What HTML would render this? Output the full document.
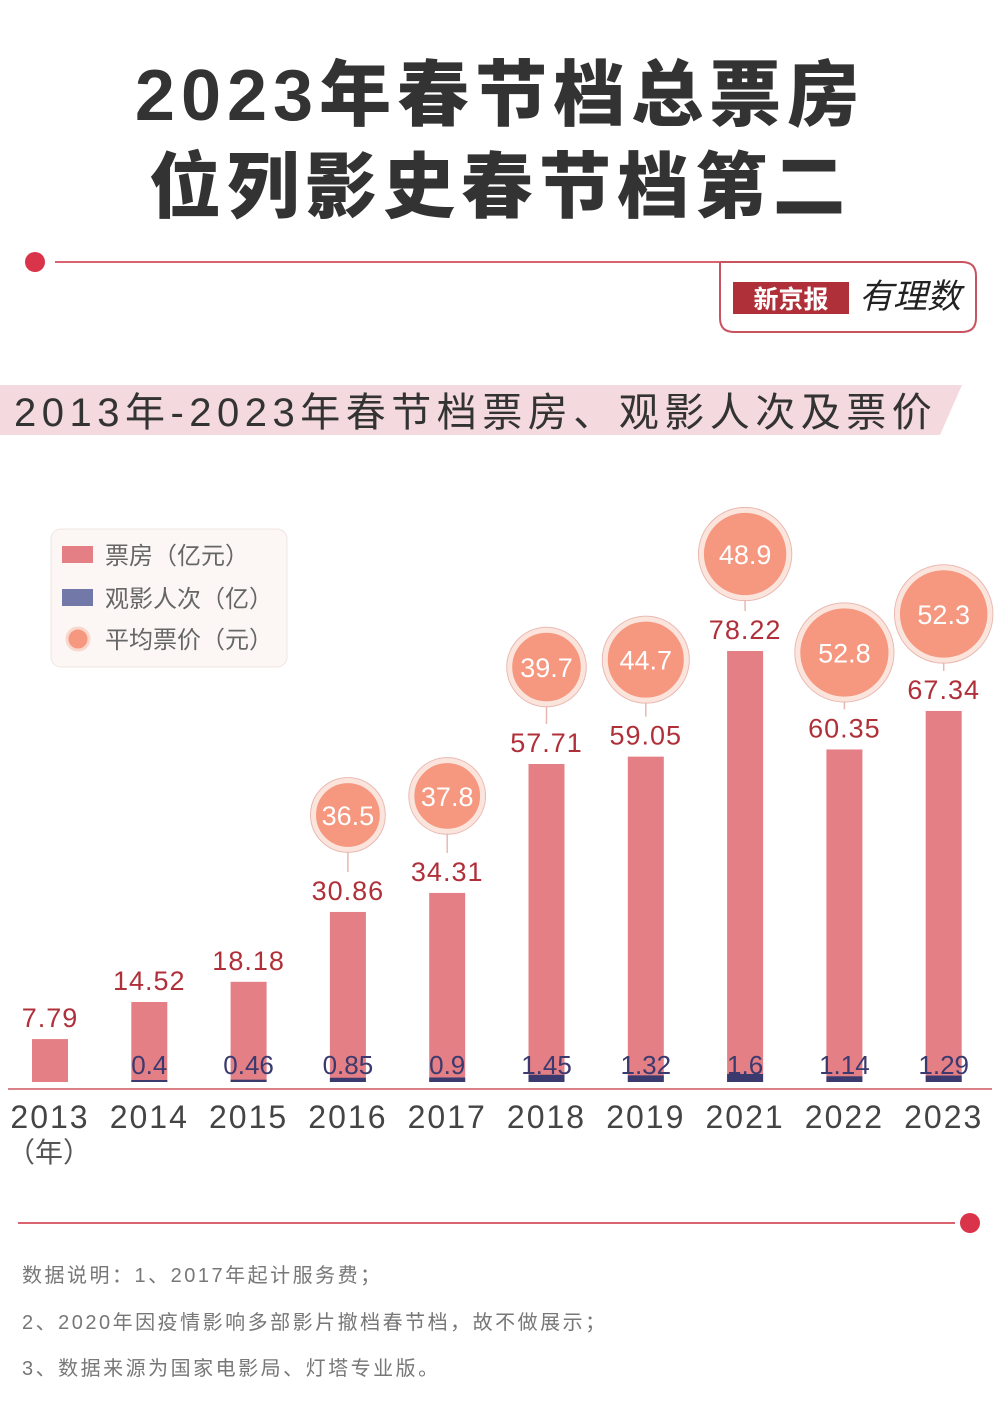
<!DOCTYPE html>
<html><head><meta charset="utf-8"><style>
body{margin:0;background:#fff;width:1000px;height:1423px;overflow:hidden;font-family:"Liberation Sans","Noto Sans CJK SC",sans-serif}
svg text{font-family:"Liberation Sans","Noto Sans CJK SC",sans-serif}
</style></head><body>
<svg id="c" width="1000" height="1423" viewBox="0 0 1000 1423">
<text x="500" y="120" text-anchor="middle" font-size="72" font-weight="900" fill="#333" letter-spacing="6">2023年春节档总票房</text>
<text x="500" y="212" text-anchor="middle" font-size="72" font-weight="900" fill="#333" letter-spacing="6">位列影史春节档第二</text>
<circle cx="35" cy="262" r="10" fill="#d9344a"/>
<line x1="55" y1="262" x2="725" y2="262" stroke="#d9646f" stroke-width="2"/>
<path d="M720 262 V318 Q720 332 734 332 H962 Q976 332 976 318 V276 Q976 262 962 262 H720" fill="none" stroke="#c9545f" stroke-width="2"/>
<rect x="733" y="282" width="116" height="32" fill="#b0303a"/>
<text x="791" y="308" text-anchor="middle" font-size="25" font-weight="bold" fill="#fff" font-family="Noto Serif CJK SC,serif">新京报</text>
<text x="910" y="308" text-anchor="middle" font-size="34" font-style="italic" fill="#222">有理数</text>
<polygon points="0,385 962,385 940,435 0,435" fill="#f4dade"/>
<text x="14" y="426" font-size="40" fill="#333" letter-spacing="5.5">2013年-2023年春节档票房、观影人次及票价</text>
<g>
<rect x="51" y="529" width="236" height="138" rx="10" fill="#fcf7f5" stroke="#f0e4e0"/>
<rect x="62" y="546" width="31" height="17" fill="#e47f86"/>
<text x="105" y="564" font-size="24" fill="#666">票房（亿元）</text>
<rect x="62" y="589" width="31" height="17" fill="#7279a8"/>
<text x="105" y="607" font-size="24" fill="#666">观影人次（亿）</text>
<circle cx="78" cy="639" r="11" fill="#f6977f" stroke="#f8d7cc" stroke-width="3"/>
<text x="105" y="648" font-size="24" fill="#666">平均票价（元）</text>
</g>
<line x1="8" y1="1089" x2="992" y2="1089" stroke="#d98088" stroke-width="2"/>
<g id="marks"></g>
<text x="49" y="1162" text-anchor="middle" font-size="28" fill="#555">（年）</text>
<line x1="18" y1="1223" x2="955" y2="1223" stroke="#d9646f" stroke-width="2"/>
<circle cx="970" cy="1223" r="10" fill="#d9344a"/>
<text x="22" y="1282" font-size="20" fill="#777" letter-spacing="2.5">数据说明：1、2017年起计服务费；</text>
<text x="22" y="1329" font-size="20" fill="#777" letter-spacing="2.5">2、2020年因疫情影响多部影片撤档春节档，故不做展示；</text>
<text x="22" y="1375" font-size="20" fill="#777" letter-spacing="2.5">3、数据来源为国家电影局、灯塔专业版。</text>
</svg>
<script>
const years=["2013","2014","2015","2016","2017","2018","2019","2021","2022","2023"];
const boxOffice=[7.79,14.52,18.18,30.86,34.31,57.71,59.05,78.22,60.35,67.34];
const attendance=[null,0.4,0.46,0.85,0.9,1.45,1.32,1.6,1.14,1.29];
const avgPrice=[null,null,null,36.5,37.8,39.7,44.7,48.9,52.8,52.3];
const NS="http://www.w3.org/2000/svg";
const g=document.getElementById('marks');
const x0=50,step=99.3,base=1082,bw=36;
const xPos=i=>x0+i*step;
const yBO=v=>base-v*5.51;
const hAt=v=>v*5;
function el(t,a,txt){const e=document.createElementNS(NS,t);for(const k in a)e.setAttribute(k,a[k]);if(txt!=null)e.textContent=txt;g.appendChild(e);return e;}
years.forEach((y,i)=>{
  const cx=xPos(i),top=yBO(boxOffice[i]);
  const b=el('rect',{x:cx-bw/2,y:top,width:bw,height:base-top,fill:'#e47f86'});
  
  
  const l=el('text',{x:cx,y:top-12,'text-anchor':'middle','font-size':27,fill:'#b0303a','letter-spacing':1},boxOffice[i]);
  
  
  if(attendance[i]!=null){
    const h=hAt(attendance[i]);
    const a=el('rect',{x:cx-bw/2,y:base-h,width:bw,height:h,fill:'#3a3a6e'});
    
    
    const al=el('text',{x:cx,y:base-8,'text-anchor':'middle','font-size':26,fill:'#3a3a6e'},attendance[i]);
    
    
  }
  if(avgPrice[i]!=null){
    const r=avgPrice[i]*0.75+7, cy=top-97;
    const ln=el('line',{x1:cx,y1:cy,x2:cx,y2:top-40,stroke:'#e8b8b0','stroke-width':1.5});
    
    
    const c=el('circle',{cx:cx,cy:cy,r:r,fill:'#f6977f',stroke:'#fbe4dc','stroke-width':5});
    
    
    el('circle',{cx:cx,cy:cy,r:r+3,fill:'none',stroke:'#e8b8b0','stroke-width':1});
    const pl=el('text',{x:cx,y:cy+10,'text-anchor':'middle','font-size':27,fill:'#fff'},avgPrice[i]);
    
    
  }
  const yl=el('text',{x:cx,y:1128,'text-anchor':'middle','font-size':32,fill:'#444','letter-spacing':2},y);
  
  
});
</script>
</body></html>
